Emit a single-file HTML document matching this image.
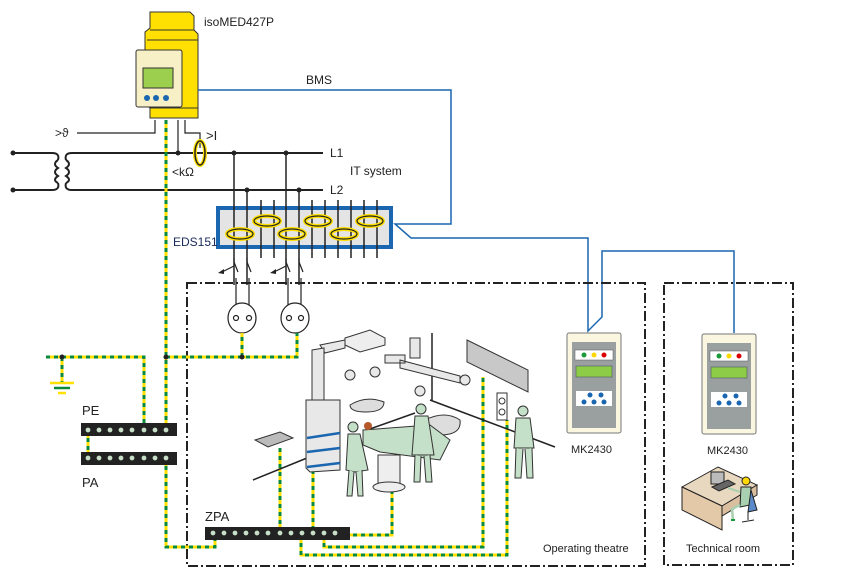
<!DOCTYPE html>
<html><head><meta charset="utf-8"><style>
html,body{margin:0;padding:0;background:#fff}
svg{display:block}
text{font-family:"Liberation Sans",sans-serif;fill:#222}
</style></head><body>
<svg width="845" height="581" viewBox="0 0 845 581" xmlns="http://www.w3.org/2000/svg">
<defs>
<g id="pe"><circle r="3" fill="#c8e0c8" stroke="#222" stroke-width="1.2"/></g>
</defs>
<!-- isoMED device -->
<g stroke="#333" stroke-width="1">
<path d="M150,12 L190,12 L194,16 L194,30 L198,34 L198,118 L150,118 L150,108 L145,104 L145,32 L150,28 Z" fill="#ffe000"/>
<path d="M150,30 L194,30 M147,40 L198,40 M150,108 L198,108" fill="none"/>
<rect x="136" y="50" width="46" height="57" rx="2" fill="#f7efc6"/>
<rect x="143" y="68" width="30" height="20" fill="#9ccf4e"/>
</g>
<g fill="#1a66b0"><circle cx="147" cy="98" r="3"/><circle cx="156" cy="98" r="3"/><circle cx="166" cy="98" r="3"/></g>
<text x="204" y="26" font-size="12">isoMED427P</text>
<g stroke="#222" stroke-width="1.2" fill="none">
<path d="M155,120 V133 H77"/>
<path d="M178,120 V153"/>
<path d="M185,120 V133 H200 V148"/>
</g>
<text x="55" y="137" font-size="12">&gt;ϑ</text>
<text x="206" y="140" font-size="13">&gt;I</text>
<text x="172" y="176" font-size="12">&lt;kΩ</text>
<g stroke="#222" stroke-width="2" fill="none">
<path d="M13,153 H52 Q60,153 58,160 M13,190 H52 Q60,190 58,183"/>
<path d="M58,160 q-6,4 0,8 q-6,4 0,8 q-6,4 0,7"/>
<path d="M66,160 q6,4 0,8 q6,4 0,8 q6,4 0,7"/>
<path d="M66,160 Q64,153 72,153 H323 M66,183 Q64,190 72,190 H323"/>
</g>
<g fill="#222"><circle cx="13" cy="153" r="2.5"/><circle cx="13" cy="190" r="2.5"/><circle cx="178" cy="153" r="2.5"/><circle cx="234" cy="153" r="2.5"/><circle cx="286" cy="153" r="2.5"/><circle cx="247" cy="190" r="2.5"/><circle cx="299" cy="190" r="2.5"/></g>
<ellipse cx="200" cy="153" rx="5" ry="12" fill="none" stroke="#ffe000" stroke-width="4"/>
<ellipse cx="200" cy="153" rx="5" ry="12" fill="none" stroke="#222" stroke-width="1.5"/>
<text x="330" y="157" font-size="12">L1</text>
<text x="330" y="194" font-size="12">L2</text>
<text x="350" y="175" font-size="12">IT system</text>
<g stroke="#1a66b0" stroke-width="1.5" fill="none">
<path d="M198,90 H451 V224 H395 L411,238 H588 V331 L602,317 V251 H734 V333"/>
</g>
<text x="306" y="84" font-size="12">BMS</text>
<rect x="218" y="208" width="173" height="39" fill="#e4e4e4" stroke="#1a66b0" stroke-width="4"/>
<g stroke="#222" stroke-width="1.5">
<path d="M234,153 V285 M247,190 V285 M286,153 V285 M299,190 V285"/>
<path d="M261,200 V258 M274,200 V258 M312,200 V258 M325,200 V258 M338,200 V258 M351,200 V258 M364,200 V258 M377,200 V258"/>
</g>
<g fill="none" stroke="#ffe000" stroke-width="4">
<ellipse cx="240" cy="234" rx="13" ry="5"/><ellipse cx="292" cy="234" rx="13" ry="5"/><ellipse cx="344" cy="234" rx="13" ry="5"/>
<ellipse cx="267" cy="221" rx="13" ry="5"/><ellipse cx="318" cy="221" rx="13" ry="5"/><ellipse cx="370" cy="221" rx="13" ry="5"/>
</g>
<g fill="none" stroke="#222" stroke-width="1.2">
<ellipse cx="240" cy="234" rx="13" ry="5"/><ellipse cx="292" cy="234" rx="13" ry="5"/><ellipse cx="344" cy="234" rx="13" ry="5"/>
<ellipse cx="267" cy="221" rx="13" ry="5"/><ellipse cx="318" cy="221" rx="13" ry="5"/><ellipse cx="370" cy="221" rx="13" ry="5"/>
</g>
<text x="173" y="246" font-size="12" style="fill:#1a2a5a">EDS151</text>
<g stroke="#222" stroke-width="1.2" fill="none">
<path d="M234,258 V262 L238,272 M247,258 V262 L251,272"/>
<path d="M286,258 V262 L290,272 M299,258 V262 L303,272"/>
<path d="M234,266 L222,272 M286,266 L274,272"/>
<path d="M236,278 V306 M249,278 V306 M288,278 V306 M301,278 V306"/>
</g>
<path d="M218,273 l6,-4 l0,5 z M270,273 l6,-4 l0,5 z" fill="#222"/>
<g stroke="#222" stroke-width="1.2" fill="#fff">
<ellipse cx="242" cy="318" rx="14" ry="15"/><ellipse cx="295" cy="318" rx="14" ry="15"/>
<circle cx="236" cy="318" r="2.5"/><circle cx="249" cy="318" r="2.5"/><circle cx="289" cy="318" r="2.5"/><circle cx="301" cy="318" r="2.5"/>
</g>
<g fill="none" stroke="#222" stroke-width="2" stroke-dasharray="10,3,2,3">
<rect x="187" y="283" width="458" height="283"/>
<rect x="664" y="283" width="129" height="282"/>
</g>
<g fill="none" stroke="#ffe000" stroke-width="3">
<path d="M166,120 V430 M46,357 H144 V430 M62,357 V383 M166,357 H297 V333 M242,357 V333 M88,430 V458 M166,458 V547 H215 V533 M280,448 V533 M313,470 V533 M345,535 H392 V492 M301,535 V555 H507 V420 M324,535 V547 H483 V377"/>
</g>
<g fill="none" stroke="#0a8a3a" stroke-width="3" stroke-dasharray="4,4">
<path d="M166,120 V430 M46,357 H144 V430 M62,357 V383 M166,357 H297 V333 M242,357 V333 M88,430 V458 M166,458 V547 H215 V533 M280,448 V533 M313,470 V533 M345,535 H392 V492 M301,535 V555 H507 V420 M324,535 V547 H483 V377"/>
</g>
<g fill="#222"><circle cx="62" cy="357" r="2.5"/><circle cx="166" cy="357" r="2.5"/><circle cx="242" cy="357" r="2.5"/></g>
<g stroke-width="2.5"><path d="M50,383 H74" stroke="#ffe000"/><path d="M54,388 H70" stroke="#0a8a3a"/><path d="M58,393 H66" stroke="#ffe000"/></g>
<rect x="81" y="423" width="96" height="13" fill="#222"/>
<rect x="81" y="452" width="96" height="13" fill="#222"/>
<rect x="205" y="527" width="145" height="13" fill="#222"/>
<g>
<use href="#pe" x="88" y="430"/><use href="#pe" x="99" y="430"/><use href="#pe" x="110" y="430"/><use href="#pe" x="121" y="430"/><use href="#pe" x="132" y="430"/><use href="#pe" x="144" y="430"/><use href="#pe" x="155" y="430"/><use href="#pe" x="166" y="430"/>
<use href="#pe" x="88" y="458"/><use href="#pe" x="99" y="458"/><use href="#pe" x="110" y="458"/><use href="#pe" x="121" y="458"/><use href="#pe" x="132" y="458"/><use href="#pe" x="144" y="458"/><use href="#pe" x="155" y="458"/><use href="#pe" x="166" y="458"/>
<use href="#pe" x="213" y="533"/><use href="#pe" x="224" y="533"/><use href="#pe" x="235" y="533"/><use href="#pe" x="246" y="533"/><use href="#pe" x="257" y="533"/><use href="#pe" x="268" y="533"/><use href="#pe" x="280" y="533"/><use href="#pe" x="291" y="533"/><use href="#pe" x="302" y="533"/><use href="#pe" x="313" y="533"/><use href="#pe" x="324" y="533"/><use href="#pe" x="335" y="533"/>
</g>
<text x="82" y="415" font-size="13">PE</text>
<text x="82" y="487" font-size="13">PA</text>
<text x="205" y="521" font-size="13">ZPA</text>
<g stroke="#222" stroke-width="1.5" fill="none">
<path d="M253,480 L307,458 M430,400 L555,447 M367,430 L415,413 M432,333 V400"/>
</g>
<g stroke="#333" stroke-width="1" fill="#e8e8e8">
<path d="M345,338 L370,330 L385,338 L385,345 L360,352 L345,345 Z" fill="#eee"/>
<path d="M320,345 L345,340 L345,348 L325,353 Z"/>
<path d="M312,350 L324,348 L324,400 L312,400 Z"/>
<path d="M410,338 h10 v20 h-10 z M400,360 L460,376 L460,383 L400,368 Z M385,355 h20 v8 h-20 z"/>
<path d="M306,400 L340,400 L340,470 L310,472 L306,468 Z"/>
<circle cx="350" cy="375" r="5"/><circle cx="375" cy="372" r="5"/><circle cx="465" cy="380" r="5"/><circle cx="420" cy="391" r="5"/>
<path d="M350,405 Q366,395 384,402 Q384,412 366,412 Q350,412 350,405 Z" fill="#ddd"/>
<path d="M425,420 Q445,410 460,420 Q462,435 440,435 Q425,432 425,420 Z" fill="#ddd"/>
<path d="M467,340 L528,370 L528,392 L467,362 Z" fill="#c8c8c8"/>
<rect x="497" y="393" width="10" height="27" fill="#fff"/>
<circle cx="502" cy="401" r="3" fill="#fff"/><circle cx="502" cy="412" r="3" fill="#fff"/>
<path d="M255,440 L280,432 L293,438 L268,447 Z" fill="#bbb"/>
<path d="M378,455 h22 v30 h-22 z" fill="#eee"/>
<ellipse cx="389" cy="487" rx="16" ry="5" fill="#eee"/>
</g>
<g stroke="#1a66b0" stroke-width="2.5"><path d="M307,438 L340,433 M307,452 L340,448 M307,467 L340,463"/></g>
<g stroke="#333" stroke-width="1" fill="#c5e0c8">
<path d="M363,430 L430,425 L450,440 L440,460 L380,452 L363,445 Z"/>
<!-- person front -->
<circle cx="353" cy="427" r="5"/>
<path d="M348,434 L360,434 L368,470 L355,472 L346,470 Z"/>
<path d="M349,470 L347,496 L352,496 L354,472 M356,472 L358,496 L363,496 L362,470" />
<!-- person back -->
<circle cx="421" cy="409" r="5"/>
<path d="M415,416 L428,416 L434,455 L412,455 Z"/>
<path d="M415,455 L414,482 L420,482 L421,456 M424,456 L426,482 L432,482 L430,455"/>
<!-- person right -->
<circle cx="523" cy="411" r="5"/>
<path d="M516,418 L530,418 L534,448 L514,448 Z"/>
<path d="M516,448 L515,478 L521,478 L523,449 M525,449 L527,478 L533,478 L532,448"/>
</g>
<circle cx="368" cy="426" r="4" fill="#b5582a"/>
<g>
<rect x="567" y="333" width="54" height="100" rx="2" fill="#fbf6df" stroke="#777"/>
<rect x="572" y="342" width="44" height="86" fill="#9aa0a0"/>
<rect x="575" y="350" width="38" height="10" fill="#fff" stroke="#555" stroke-width=".5"/>
<circle cx="584" cy="355" r="2.5" fill="#1a9a3a"/><circle cx="594" cy="355" r="2.5" fill="#ffd800"/><circle cx="604" cy="355" r="2.5" fill="#d00"/>
<rect x="576" y="366" width="36" height="11" fill="#8ccc46" stroke="#446" stroke-width=".5"/>
<rect x="576" y="391" width="36" height="15" fill="#fff"/>
<g fill="#1a66b0"><circle cx="590" cy="395" r="2.5"/><circle cx="601" cy="395" r="2.5"/><circle cx="584" cy="402" r="2.5"/><circle cx="594" cy="402" r="2.5"/><circle cx="604" cy="402" r="2.5"/></g>
<text x="571" y="453" font-size="11">MK2430</text>
</g>
<g>
<rect x="702" y="334" width="54" height="100" rx="2" fill="#fbf6df" stroke="#777"/>
<rect x="707" y="343" width="44" height="86" fill="#9aa0a0"/>
<rect x="710" y="351" width="38" height="10" fill="#fff" stroke="#555" stroke-width=".5"/>
<circle cx="719" cy="356" r="2.5" fill="#1a9a3a"/><circle cx="729" cy="356" r="2.5" fill="#ffd800"/><circle cx="739" cy="356" r="2.5" fill="#d00"/>
<rect x="711" y="367" width="36" height="11" fill="#8ccc46" stroke="#446" stroke-width=".5"/>
<rect x="711" y="392" width="36" height="15" fill="#fff"/>
<g fill="#1a66b0"><circle cx="725" cy="396" r="2.5"/><circle cx="736" cy="396" r="2.5"/><circle cx="719" cy="403" r="2.5"/><circle cx="729" cy="403" r="2.5"/><circle cx="739" cy="403" r="2.5"/></g>
<text x="707" y="454" font-size="11">MK2430</text>
</g>
<g stroke="#222" stroke-width="1">
<path d="M682,487 L718,467 L757,485 L722,506 Z" fill="#e9d8c0"/>
<path d="M682,487 L722,506 L722,530 L682,510 Z" fill="#e3c9a8"/>
<path d="M722,506 L757,485 L757,495 L722,516 Z" fill="#d9bfa0"/>
<rect x="711" y="472" width="13" height="12" fill="#bbb"/>
<path d="M712,487 L728,480 L735,484 L719,491 Z" fill="#666"/>
<circle cx="746" cy="481" r="4" fill="#ffd800"/>
<path d="M741,487 L751,487 L750,505 L740,507 Z" fill="#a9d0b0"/>
<path d="M740,492 L728,488" fill="none" stroke="#a9d0b0" stroke-width="2"/>
<path d="M740,505 L732,509 L733,520" fill="none" stroke="#a9d0b0" stroke-width="2.5"/>
<path d="M751,490 L757,510 L748,512 Z" fill="#5a8ac8"/>
<path d="M748,512 L748,520 M742,522 L754,520" fill="none"/>
<path d="M731,520 h4" stroke="#1a9a3a" stroke-width="2"/>
</g>
<text x="543" y="552" font-size="11">Operating theatre</text>
<text x="686" y="552" font-size="11">Technical room</text>
</svg>
</body></html>
